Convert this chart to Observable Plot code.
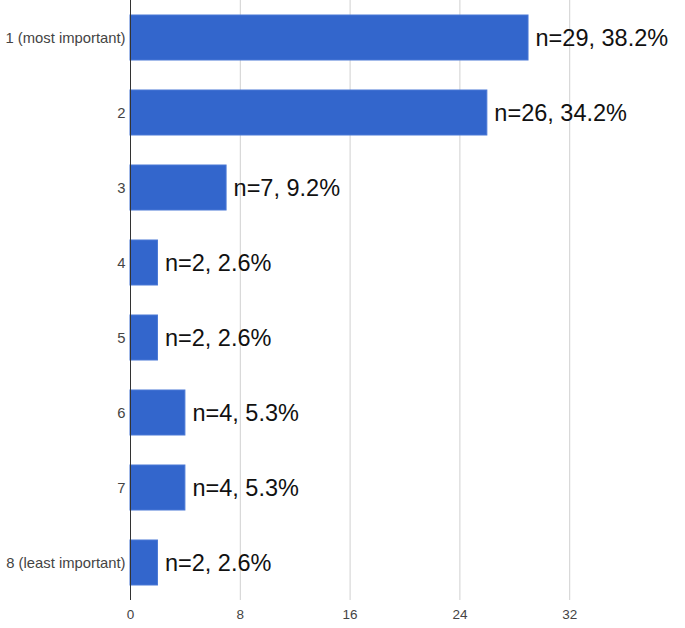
<!DOCTYPE html>
<html>
<head>
<meta charset="utf-8">
<script src="https://cdn.jsdelivr.net/npm/d3@7"></script>
<script src="https://cdn.jsdelivr.net/npm/@observablehq/plot@0.6"></script>
<style>
  html, body { margin: 0; padding: 0; background: #fff; }
  #chart svg { display: block; }
</style>
</head>
<body>
<div id="chart"></div>
<script>
const categories = ["1 (most important)", "2", "3", "4", "5", "6", "7", "8 (least important)"];
const counts = [29, 26, 7, 2, 2, 4, 4, 2];
const percents = [38.2, 34.2, 9.2, 2.6, 2.6, 5.3, 5.3, 2.6];
const xTicks = [0, 8, 16, 24, 32];
const gridTicks = [8, 16, 24, 32];

const data = categories.map((c, i) => ({
  cat: c,
  n: counts[i],
  label: `n=${counts[i]}, ${percents[i].toFixed(1)}%`
}));

const chart = Plot.plot({
  width: 685,
  height: 628,
  marginLeft: 130,
  marginRight: 6,
  marginTop: 0,
  marginBottom: 28,
  style: { fontFamily: "'Liberation Sans', Arial, sans-serif", background: "#fff" },
  x: { domain: [0, 40], ticks: xTicks, label: null },
  y: { domain: categories, paddingInner: 0.4, paddingOuter: 0.2, label: null },
  marks: [
    Plot.ruleX(gridTicks, { stroke: "#d0d0d0", strokeWidth: 1 }),
    Plot.barX(data, { x: "n", y: "cat", fill: "#3366cc", stroke: "#4a78d6", strokeWidth: 1 }),
    Plot.ruleX([0], { stroke: "#333", strokeWidth: 1 }),
    Plot.text(data, {
      x: "n", y: "cat", text: "label", textAnchor: "start", dx: 7,
      fontSize: 23.5, fill: "#111"
    }),
    Plot.axisY({ tickSize: 0, tickPadding: 5, fontSize: 14.8, color: "#444", label: null }),
    Plot.axisX({ ticks: xTicks, tickSize: 0, tickPadding: 9, fontSize: 13.5, color: "#444", label: null })
  ]
});
document.getElementById("chart").append(chart);
</script>
</body>
</html>
